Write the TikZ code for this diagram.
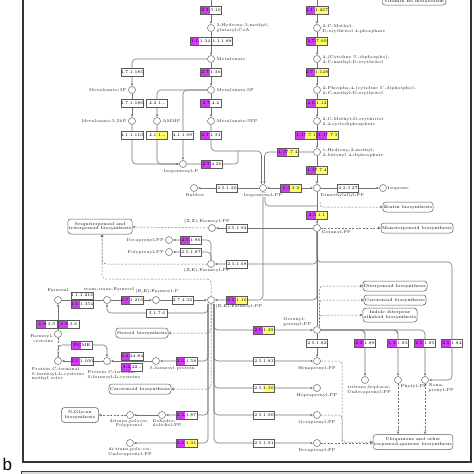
\documentclass[tikz,border=0pt]{standalone}
\usepackage{fontspec}
\newfontfamily\panelfont{Liberation Sans}
\usetikzlibrary{arrows.meta,backgrounds}
\definecolor{kmag}{RGB}{205,60,240}
\definecolor{kyel}{RGB}{255,255,110}
\tikzset{
  figfont/.style={font=\fontsize{4.2}{4.6}\selectfont},
  figenz/.style={draw=black!65, fill=white, line width=0.4pt, minimum width=21pt, minimum height=7.5pt, inner sep=0pt, figfont},
  figenzm/.style={figenz, path picture={\fill[kmag] (path picture bounding box.south west) rectangle ([xshift=9pt]path picture bounding box.north west);}},
  figenzmy/.style={figenz, path picture={\fill[kyel] (path picture bounding box.south west) rectangle (path picture bounding box.north east);
      \fill[kmag] (path picture bounding box.south west) rectangle ([xshift=9pt]path picture bounding box.north west);}},
  figenzwy/.style={figenz, path picture={\fill[kyel] ([xshift=9pt]path picture bounding box.south west) rectangle (path picture bounding box.north east);}},
  figcpd/.style={circle, draw=black!60, fill=white, line width=0.5pt, minimum size=7pt, inner sep=0pt},
  figmap/.style={draw=black!65, fill=white, rounded corners=3pt, line width=0.5pt, align=center, inner sep=1pt, minimum height=10pt, figfont},
  figlbl/.style={inner sep=0.5pt, align=left, figfont, text=black!85},
  figrxn/.style={draw=black!55, line width=0.6pt},
  figarrow/.style={figrxn, -{Latex[length=2.6pt,width=2.4pt]}},
  figdash/.style={draw=black!55, line width=0.5pt, dash pattern=on 2pt off 1.5pt, -{Triangle[open,length=2.6pt,width=2.6pt]}},
}

\begin{document}
\begin{tikzpicture}[x=1pt, y=-1pt]
\useasboundingbox (0,0) rectangle (474,474);

% Panel frame
\draw[black!80, line width=1.2pt] (23,-1) -- (23,462) -- (471,462) -- (471,-1);
\node[font=\panelfont\fontsize{17}{17}\selectfont, anchor=base west, inner sep=0pt] (panelb) at (2.5,470) {b};
\fill[gray!30] (21,471) rectangle (476,476);
\draw[black!75, line width=1pt] (21,476) -- (21,471) -- (476,471);
\node[figmap, minimum width=64pt, minimum height=7pt, inner sep=0.5pt] (topmap) at (414,1.5) {Vitamin B6 metabolism};

% Mevalonate pathway
\node[figenzm] (e23310) at (211,10) {2.3.3.10};
\node[figcpd] (hmgcoa) at (211,28) {};
\node[figlbl, anchor=west] (lhmgcoa) at (216,28) {3-Hydroxy-3-methyl-\\glutaryl-CoA};
\node[figenzm] (e11134) at (200.5,41) {1.1.1.34};
\node[figenz] (e11188) at (222,41) {1.1.1.88};
\node[figcpd] (mva) at (211,59) {};
\node[figlbl, anchor=west] (lmva) at (216,59) {Mevalonate};
\node[figenzm] (e27136) at (211,72) {2.7.1.36};
\node[figcpd] (mva5p) at (211,90) {};
\node[figlbl, anchor=west] (lmva5p) at (216,90) {Mevalonate-5P};
\node[figenzm] (e2742) at (211,103) {2.7.4.2};
\node[figcpd] (mva5pp) at (211,121) {};
\node[figlbl, anchor=west] (lmva5pp) at (216,121) {Mevalonate-5PP};
\node[figenzm] (e411133) at (211,135) {4.1.1.33};

% Archaeal branches
\node[figenz] (e271185) at (132,72) {2.7.1.185};
\node[figcpd] (mva3p) at (132,90) {};
\node[figlbl, anchor=east] (lmva3p) at (127,90) {Mevalonate-3P};
\node[figenz] (e271186) at (132,103) {2.7.1.186};
\node[figcpd] (mva35p) at (132,121) {};
\node[figlbl, anchor=east] (lmva35p) at (127,121) {Mevalonate-3,5bP};
\node[figenz] (e411110) at (132,135) {4.1.1.110};
\node[figenz] (e421) at (157,103) {4.2.1.-};
\node[figcpd] (ammp) at (157,121) {};
\node[figlbl, anchor=west] (lammp) at (162,121) {AMMP};
\node[figenzwy] (e411) at (157,135) {4.1.1.-};
\node[figenz] (e41199) at (182.5,135) {4.1.1.99};
\node[figcpd] (ipp1) at (183,164) {};
\node[figlbl, anchor=north] (lipp1) at (181,168.5) {Isopentenyl-P};
\node[figenzm] (e27426) at (212,164) {2.7.4.26};

% MEP pathway
\node[figenzmy] (e111267) at (317,10) {1.1.1.267};
\node[figcpd] (mep) at (317,28) {};
\node[figlbl, anchor=west] (lmep) at (322,29) {2-C-Methyl-\\D-erythritol 4-phosphate};
\node[figenzmy] (e27760) at (317,41) {2.7.7.60};
\node[figcpd] (cdpme) at (317,59) {};
\node[figlbl, anchor=west] (lcdpme) at (322,60) {4-(Cytidine 5'-diphospho)-\\2-C-methyl-D-erythritol};
\node[figenzmy] (e271148) at (317,72) {2.7.1.148};
\node[figcpd] (cdpmep) at (317,90) {};
\node[figlbl, anchor=west] (lcdpmep) at (322,91) {2-Phospho-4-(cytidine 5'-diphospho)-\\2-C-methyl-D-erythritol};
\node[figenzmy] (e46112) at (317,103) {4.6.1.12};
\node[figcpd] (mecpp) at (317,121) {};
\node[figlbl, anchor=west] (lmecpp) at (322,122) {2-C-Methyl-D-erythritol\\2,4-cyclodiphosphate};
\node[figenzmy] (e11771) at (306,135) {1.17.7.1};
\node[figenzmy] (e11773) at (328,135) {1.17.7.3};
\node[figcpd] (hmbpp) at (317,152) {};
\node[figlbl, anchor=west] (lhmbpp) at (322,153) {1-Hydroxy-2-methyl-\\2-butenyl 4-diphosphate};
\node[figenzmy] (e11774a) at (288,152) {1.17.7.4};
\node[figenzmy] (e11774b) at (317,170) {1.17.7.4};

% IPP and DMAPP
\node[figcpd] (ipp) at (263,188) {};
\node[figlbl, anchor=north, fill=white] (lipp) at (263,192.5) {Isopentenyl-PP};
\node[figenzmy] (e5332) at (291,188) {5.3.3.2};
\node[figcpd] (dmapp) at (317,188) {};
\node[figlbl, anchor=north west] (ldmapp) at (320,192.5) {Dimethylallyl-PP};
\node[figenz] (e42327) at (348,188) {4.2.3.27};
\node[figcpd] (isoprene) at (383,188) {};
\node[figlbl, anchor=west] (lisoprene) at (387,188) {Isoprene};
\node[figmap, minimum width=50pt] (zeatin) at (408,207) {Zeatin biosynthesis};
\node[figenz] (e25120) at (227,188) {2.5.1.20};
\node[figcpd] (rubber) at (194,188) {};
\node[figlbl, anchor=north] (lrubber) at (195,192.5) {Rubber};
\node[figenzmy] (e2511) at (317,215) {2.5.1.1};
\node[figcpd] (gpp) at (317,228) {};
\node[figlbl, anchor=north west] (lgpp) at (321,230) {Geranyl-PP};
\node[figmap, minimum width=69pt] (monoterp) at (417,228) {Monoterpenoid biosynthesis};

% Z-prenyl chains
\node[figenz] (e25192) at (237,228) {2.5.1.92};
\node[figcpd] (zzfpp) at (212,228) {};
\node[figlbl, anchor=south] (lzzfpp) at (207,224.5) {(Z,Z)-Farnesyl-PP};
\node[figenz] (e25168) at (237,264) {2.5.1.68};
\node[figcpd] (zefpp) at (211,264) {};
\node[figlbl, anchor=north] (lzefpp) at (207,268) {(Z,E)-Farnesyl-PP};
\node[figenzm] (e25186) at (191,240) {2.5.1.86};
\node[figcpd] (decpp1) at (169,240) {};
\node[figlbl, anchor=east] (ldecpp1) at (164.5,240) {Decaprenyl-PP};
\node[figenz] (e25187) at (191,252) {2.5.1.87};
\node[figcpd] (polypp) at (169,252) {};
\node[figlbl, anchor=east] (lpolypp) at (164.5,252) {Polyprenyl-PP};
\node[figmap, minimum width=64pt, minimum height=15pt] (sesqui) at (100,226.5) {Sesquiterpenoid and\\triterpenoid biosynthesis};

% Farnesyl row
\node[figcpd] (farnesal) at (58,300) {};
\node[figlbl, anchor=south] (lfarnesal) at (58,292.5) {Farnesal};
\node[figenz] (e111216) at (82,295.5) {1.1.1.216};
\node[figenzm] (e111354) at (82,304) {1.1.1.354};
\node[figcpd] (farnesol) at (107,300) {};
\node[figlbl, anchor=south] (lfarnesol) at (109,292) {trans,trans-Farnesol};
\node[figenzm] (e271216) at (132,300) {2.7.1.216};
\node[figcpd] (fp) at (156,300) {};
\node[figlbl, anchor=south] (lfp) at (157,294.5) {(E,E)-Farnesyl-P};
\node[figenz] (e27432) at (182.5,300) {2.7.4.32};
\node[figcpd] (fpp) at (211,300) {};
\node[figlbl, anchor=north west] (lfpp) at (215,303.5) {(E,E)-Farnesyl-PP};
\node[figenzmy] (e25110) at (237,300) {2.5.1.10};
\node[figenz] (e3176) at (157,313) {3.1.7.6};

% Protein prenylation
\node[figenzm] (e1835) at (47,324) {1.8.3.5};
\node[figenzm] (e1836) at (69,324) {1.8.3.6};
\node[figcpd] (fcys) at (58,334) {};
\node[figlbl, anchor=east, align=right] (lfcys) at (54,339) {Farnesyl-\\cysteine};
\node[figenzm] (epcme) at (82,345) {PCME};
\node[figcpd] (pfcme) at (58,361) {};
\node[figlbl, anchor=north west] (lpfcme) at (31,367) {Protein C-terminal\\S-farnesyl-L-cysteine\\methyl ester};
\node[figenzm] (e211100) at (82,361) {2.1.1.100};
\node[figcpd] (pfc) at (107,361) {};
\node[figlbl, anchor=north west] (lpfc) at (87,370) {Protein C-terminal\\S-farnesyl-L-cysteine};
\node[figenzm] (e342484) at (132,356) {3.4.24.84};
\node[figenzm] (e3422) at (132,367) {3.4.22.-};
\node[figcpd] (sfprot) at (156,361) {};
\node[figlbl, anchor=north west] (lsfprot) at (149,366) {S-farnesyl protein};
\node[figenzm] (e25158) at (186.5,361) {2.5.1.58};
\node[figmap, minimum width=50pt] (steroid) at (142,333) {Steroid biosynthesis};
\node[figmap, minimum width=60pt] (carot1) at (140,389) {Carotenoid biosynthesis};

% Polyprenols
\node[figmap, minimum width=37pt, minimum height=15pt] (nglycan) at (80,415) {N-Glycan\\biosynthesis};
\node[figcpd] (polyprenol) at (130,415) {};
\node[figlbl, anchor=north, align=center] (lpolyprenol) at (129,418.5) {ditrans,polycis-\\Polyprenol};
\node[figcpd] (dehydro) at (162,415) {};
\node[figlbl, anchor=north west] (ldehydro) at (152,418.5) {Dehydro-\\dolichol-PP};
\node[figenzm] (e25187b) at (186.5,415) {2.5.1.87};
\node[figcpd] (undec1) at (130,443) {};
\node[figlbl, anchor=north, align=center] (lundec1) at (130,447) {di-trans,poly-cis-\\Undecaprenyl-PP};
\node[figenzmy] (e25131) at (186.5,443) {2.5.1.31};

% Long-chain prenyl-PP
\node[figcpd] (ggpp) at (317,330) {};
\node[figlbl, anchor=south east] (lggpp) at (312,327) {Geranyl-\\geranyl-PP};
\node[figenzmy] (e25129) at (264,330) {2.5.1.29};
\node[figenz] (e25182) at (317,343) {2.5.1.82};
\node[figcpd] (hexpp) at (317,361) {};
\node[figlbl, anchor=north] (lhexpp) at (317,365.5) {Hexaprenyl-PP};
\node[figenz] (e25183) at (264,361) {2.5.1.83};
\node[figcpd] (heppp) at (317,388) {};
\node[figlbl, anchor=north] (lheppp) at (317,392.5) {Heptaprenyl-PP};
\node[figenzwy] (e25130) at (264,388) {2.5.1.30};
\node[figcpd] (octpp) at (317,415) {};
\node[figlbl, anchor=north] (loctpp) at (317,419.5) {Octaprenyl-PP};
\node[figenz] (e25190) at (264,415) {2.5.1.90};
\node[figcpd] (decpp2) at (317,443) {};
\node[figlbl, anchor=north] (ldecpp2) at (317,447.5) {Decaprenyl-PP};
\node[figenz] (e25191) at (264,443) {2.5.1.91};
\node[figenzm] (e25189) at (365,343) {2.5.1.89};
\node[figcpd] (undec2) at (365,380) {};
\node[figlbl, anchor=north, align=center] (lundec2) at (369,385) {tritrans,heptacis-\\Undecaprenyl-PP};
\node[figenzm] (e13183) at (398,343) {1.3.1.83};
\node[figcpd] (phypp) at (398,380) {};
\node[figlbl, anchor=north west] (lphypp) at (400,384) {Phytyl-PP};
\node[figenzm] (e25185) at (425,343) {2.5.1.85};
\node[figcpd] (nonapp) at (425,380) {};
\node[figlbl, anchor=north west] (lnonapp) at (428,383) {Nona-\\prenyl-PP};
\node[figenzm] (e25184) at (452,343) {2.5.1.84};
\node[figmap, minimum width=78pt, minimum height=15pt] (ubiq) at (413,442) {Ubiquinone and other\\terpenoid-quinone biosynthesis};
\node[figmap, minimum width=60pt] (diterp) at (395,286) {Diterpenoid biosynthesis};
\node[figmap, minimum width=60pt] (carot2) at (395,300) {Carotenoid biosynthesis};
\node[figmap, minimum width=50pt, minimum height=14pt] (indole) at (390,315) {Indole diterpene\\alkaloid biosynthesis};

\begin{scope}[on background layer]
  % Mevalonate links
  \coordinate (topl) at (211,-2);
  \coordinate (topr) at (317,-2);
  \draw[figarrow] (topl) -- (hmgcoa);
  \draw[figarrow] (hmgcoa) -- (mva);
  \draw[figarrow] (mva) -- (mva5p);
  \draw[figarrow] (mva5p) -- (mva5pp);
  \draw[figarrow, rounded corners=4pt] (mva5pp) -- (211,151) -| ([xshift=-1.5pt]ipp.north);
  \draw[figarrow, rounded corners=4pt] (mva) -| (mva3p);
  \draw[figarrow] (mva3p) -- (mva35p);
  \draw[figarrow, rounded corners=4pt] (mva35p) |- (ipp1);
  \draw[figarrow, rounded corners=4pt] (mva5p) -| (ammp);
  \draw[figarrow, rounded corners=4pt] (ammp) |- (ipp1);
  \draw[figarrow, rounded corners=4pt] (mva5p) -| (ipp1);
  \draw[figrxn, rounded corners=3pt] (ipp1) -| (238,151);

  % MEP links
  \draw[figarrow] (topr) -- (mep);
  \draw[figarrow] (mep) -- (cdpme);
  \draw[figarrow] (cdpme) -- (cdpmep);
  \draw[figarrow] (cdpmep) -- (mecpp);
  \draw[figarrow] (mecpp) -- (hmbpp);
  \draw[figarrow] (hmbpp) -- (dmapp);
  \draw[figarrow, rounded corners=4pt] (hmbpp) -| ([xshift=1.5pt]ipp.north);
  \draw[figrxn, {Latex[length=2.6pt,width=2.4pt]}-{Latex[length=2.6pt,width=2.4pt]}] (ipp) -- (dmapp);
  \draw[figarrow] (dmapp) -- (isoprene);
  \draw[figarrow] (ipp) -- (rubber);
  \draw[figarrow] (dmapp) -- (gpp);
  \draw[figrxn, rounded corners=4pt] ([xshift=2pt]ipp.south) |- (317,206);
  \coordinate (zeatinfrom) at (320,202);
  \draw[figdash, rounded corners=3pt] (zeatinfrom) |- (zeatin);
  \draw[figdash] (gpp) -- (monoterp);

  % GPP to longer chains
  \draw[figarrow] (gpp) -- (zzfpp);
  \draw[figarrow, rounded corners=4pt] (gpp) |- (zefpp);
  \draw[figrxn] (gpp) -- (ggpp);
  \draw[figarrow, rounded corners=4pt] (gpp) |- (452,262) |- (nonapp);
  \draw[figarrow, rounded corners=4pt] (ipp) |- (fpp);
  \draw[figrxn, rounded corners=4pt] (gpp) |- (ipp |- fpp);
  \draw[figarrow, rounded corners=4pt] (zefpp) |- (decpp1);
  \draw[figarrow, rounded corners=4pt] (zefpp) |- (polypp);
  \draw[figdash] (zzfpp) -- (sesqui);
  \draw[figdash, rounded corners=4pt] (zefpp) -| ([xshift=2pt]sesqui.south);
  \draw[figdash, rounded corners=4pt] (fpp) |- (102,279) -- ([xshift=2pt]sesqui.south);

  % Farnesyl row
  \draw[figarrow] (fp) -- (fpp);
  \draw[figarrow] (farnesol) -- (fp);
  \draw[figrxn] (farnesal) -- (farnesol);
  \draw[figarrow, rounded corners=4pt] ([xshift=-3pt]fpp.south) |- (e3176.center) -| (farnesol);

  % Protein prenylation
  \draw[figarrow] (fcys) -- (farnesal);
  \draw[figrxn, dash pattern=on 2pt off 1.5pt] (fcys) -- (pfcme);
  \draw[figarrow, rounded corners=4pt] (pfcme) |- (epcme.center) -| (pfc);
  \draw[figarrow] (pfc) -- (pfcme);
  \draw[figarrow] (sfprot) -- (pfc);
  \draw[figarrow, rounded corners=4pt] ([xshift=-3pt]fpp.south) |- (sfprot);
  \draw[figdash, rounded corners=4pt] (fpp.south) |- (steroid);
  \draw[figdash, rounded corners=4pt] (fpp.south) |- (carot1);
  \draw[figarrow, rounded corners=4pt] ([xshift=-3pt]fpp.south) |- (dehydro);
  \draw[figarrow] (dehydro) -- (polyprenol);
  \draw[figdash] (polyprenol) -- (nglycan);
  \draw[figarrow, rounded corners=4pt] ([xshift=-3pt]fpp.south) |- (undec1);

  % FPP to right-hand chains
  \draw[figarrow, rounded corners=4pt] ([xshift=3pt]fpp.south) |- (ggpp);
  \draw[figarrow, rounded corners=4pt] ([xshift=3pt]fpp.south) |- (hexpp);
  \draw[figarrow, rounded corners=4pt] ([xshift=3pt]fpp.south) |- (heppp);
  \draw[figarrow, rounded corners=4pt] ([xshift=3pt]fpp.south) |- (octpp);
  \draw[figarrow, rounded corners=4pt] ([xshift=3pt]fpp.south) |- (decpp2);
  \draw[figarrow] (ggpp) -- (hexpp);
  \draw[figarrow, rounded corners=4pt, line width=0.9pt] (ggpp) -| (undec2);
  \draw[figarrow, rounded corners=4pt, line width=0.9pt] (ggpp) -| (phypp);
  \draw[figarrow, rounded corners=4pt] (ggpp) -| (nonapp);

  % Links to other maps
  \coordinate (ubiqbend) at (342,442);
  \draw[figdash, rounded corners=3pt] (hexpp) -| (ubiqbend) -- (ubiq);
  \draw[figrxn, line width=0.5pt, dash pattern=on 2pt off 1.5pt, rounded corners=3pt] (octpp) -| (ubiqbend);
  \draw[figdash] (decpp2) -- (decpp2 -| ubiq.west);
  \draw[figdash] (phypp) -- (phypp |- ubiq.north);
  \draw[figdash] (nonapp) -- (nonapp |- ubiq.north);
  \draw[figdash, rounded corners=3pt] ([xshift=2.5pt]ggpp.north) |- (diterp);
  \draw[figdash, rounded corners=3pt] ([xshift=2.5pt]ggpp.north) |- (carot2);
  \draw[figdash, rounded corners=3pt] ([xshift=2.5pt]ggpp.north) |- (indole);
\end{scope}
\end{tikzpicture}
\end{document}
